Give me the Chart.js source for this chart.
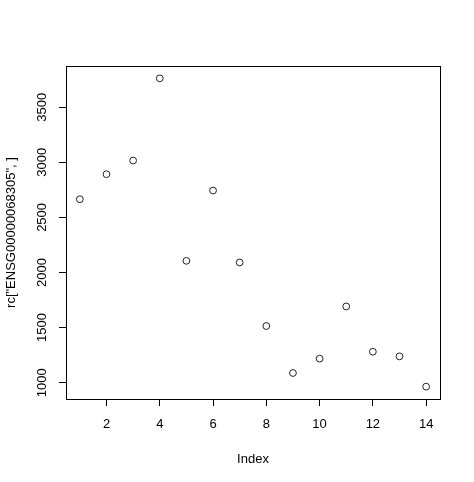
<!DOCTYPE html>
<html>
<head>
<meta charset="utf-8">
<script src="https://cdn.jsdelivr.net/npm/chart.js@4/dist/chart.umd.min.js"></script>
<style>
html,body{margin:0;padding:0;background:#fff;}
canvas{display:block;}
</style>
</head>
<body>
<canvas id="c" width="474" height="482"></canvas>
<script>
const indexValues = [1,2,3,4,5,6,7,8,9,10,11,12,13,14];
const countValues = [2665,2892,3016,3762,2106,2744,2091,1514,1088,1218,1692,1281,1239,964];
const xTickValues = [2,4,6,8,10,12,14];
const yTickValues = [1000,1500,2000,2500,3000,3500];
const xTitle = 'Index';
const yTitle = 'rc["ENSG00000068305", ]';

const points = indexValues.map((x,i)=>({x:x,y:countValues[i]}));
function ext(arr){const mn=Math.min(...arr),mx=Math.max(...arr),p=(mx-mn)*0.04;return [mn-p,mx+p];}
const [xMin,xMax] = ext(indexValues);
const [yMin,yMax] = ext(countValues);

const FONT = {family:'"Liberation Sans", Arial, sans-serif', size:13};

const boxPlugin = {
  id:'box',
  afterDraw(chart){
    const a = chart.chartArea, ctx = chart.ctx;
    ctx.save();
    ctx.strokeStyle = '#000';
    ctx.lineWidth = 1;
    ctx.strokeRect(Math.round(a.left)+0.5, Math.round(a.top)+0.5, Math.round(a.right-a.left), Math.round(a.bottom-a.top));
    ctx.restore();
  }
};

new Chart(document.getElementById('c'), {
  type:'scatter',
  data:{datasets:[{
    data:points,
    pointStyle:'circle',
    pointRadius:3.4,
    pointHoverRadius:3.4,
    borderColor:'#222',
    backgroundColor:'rgba(0,0,0,0)',
    borderWidth:1
  }]},
  options:{
    responsive:false,
    animation:false,
    events:[],
    layout:{padding:{left:0,top:66,right:34,bottom:0}},
    plugins:{legend:{display:false},tooltip:{enabled:false}},
    scales:{
      x:{
        type:'linear', min:xMin, max:xMax,
        afterBuildTicks(s){ s.ticks = xTickValues.map(v=>({value:v})); },
        afterFit(s){ s.height = 83; },
        grid:{display:true, drawOnChartArea:false, drawTicks:true, tickLength:7, color:'#000', tickColor:'#000'},
        border:{display:false},
        ticks:{font:FONT, color:'#000', padding:11, maxRotation:0, autoSkip:false, callback:v=>String(v)},
        title:{display:true, text:xTitle, font:FONT, color:'#000', padding:{top:0,bottom:15}}
      },
      y:{
        type:'linear', min:yMin, max:yMax,
        afterBuildTicks(s){ s.ticks = yTickValues.map(v=>({value:v})); },
        afterFit(s){ s.width = 66; },
        grid:{display:true, drawOnChartArea:false, drawTicks:true, tickLength:7, color:'#000', tickColor:'#000'},
        border:{display:false},
        ticks:{font:FONT, color:'#000', padding:2, minRotation:90, maxRotation:90, crossAlign:'center', autoSkip:false, callback:v=>String(v)},
        title:{display:true, text:yTitle, font:FONT, color:'#000', padding:{top:4,bottom:0}}
      }
    }
  },
  plugins:[boxPlugin]
});
</script>
</body>
</html>
